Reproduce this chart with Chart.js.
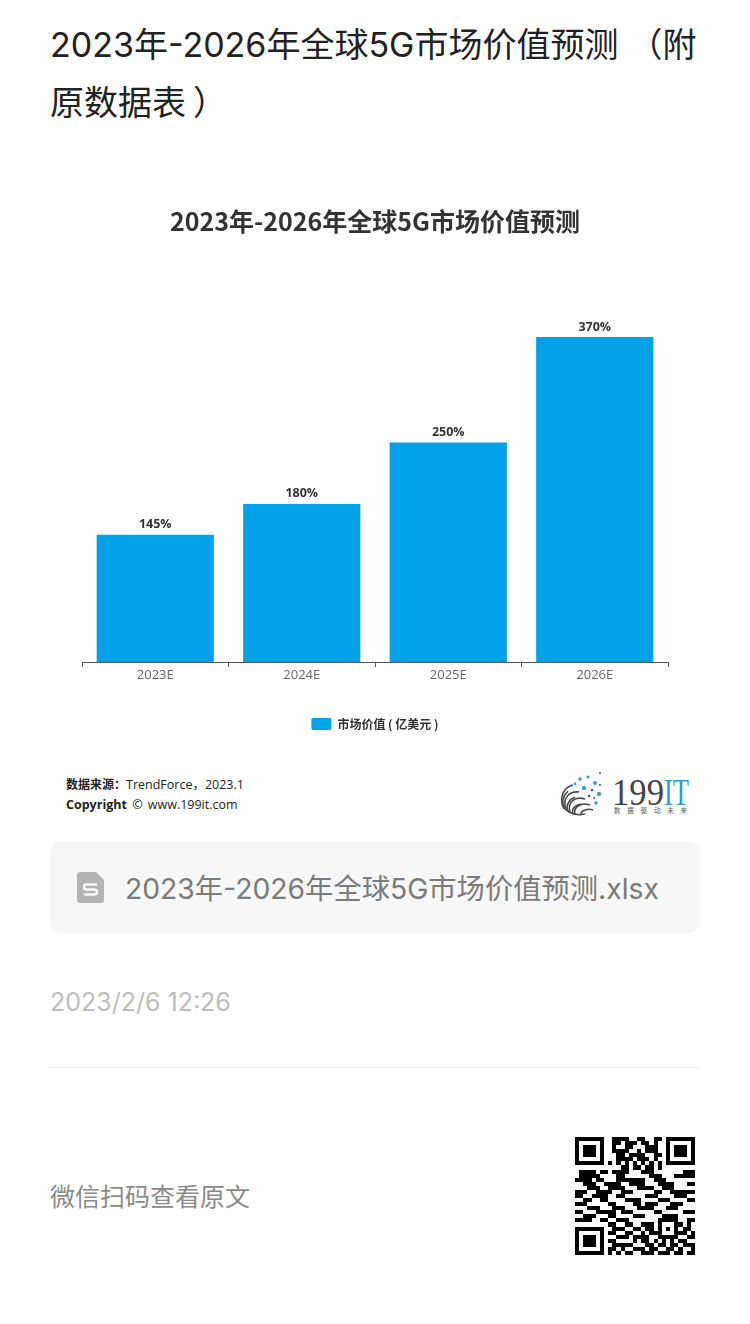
<!DOCTYPE html>
<html lang="zh">
<head>
<meta charset="utf-8">
<title>2023年-2026年全球5G市场价值预测</title>
<script src="https://cdn.jsdelivr.net/npm/chart.js@4"></script>
<style>
  html, body { margin: 0; padding: 0; background: #fff; }
  body { position: relative; width: 750px; height: 1324px; overflow: hidden; font-family: Inter, "Noto Sans CJK SC", sans-serif; }
  .txt { position: absolute; white-space: nowrap; line-height: 1; }
  #pageTitle { position: absolute; left: 50px; top: 16px; width: 680px; font-size: 34px; line-height: 58px; color: #222; }
  #chartBox { position: absolute; left: 0; top: 0; width: 750px; height: 754px; }
  .src { font-family: "Open Sans", "Noto Sans CJK SC", sans-serif; font-size: 12.5px; color: #222; }
  #fileBox { position: absolute; left: 50px; top: 842px; width: 650px; height: 91px; background: #f7f7f7; border-radius: 10px; }
  #rule { position: absolute; left: 50px; top: 1067px; width: 650px; height: 1px; background: #eeeeee; }
</style>
</head>
<body>
<div id="pageTitle">2023年-2026年全球5G市场价值预测<span style="margin-left:10px">（</span>附<br>原数据表<span style="margin-left:7px">）</span></div>
<div id="chartBox"><canvas id="barChart" width="750" height="754"></canvas></div>

<div class="txt src" style="left:66px;top:779px"><b style="font-size:12px">数据来源：</b>TrendForce，2023.1</div>
<div class="txt src" style="left:66px;top:799px;word-spacing:2px"><b>Copyright</b> © www.199it.com</div>

<!-- 199IT logo -->
<svg style="position:absolute;left:555px;top:765px" width="145" height="55" viewBox="0 0 145 55">
  <g fill="none" stroke="#4a4a4a" stroke-width="1.6">
    <path d="M8 42 C4 30 10 22 18 20"/><path d="M11 45 C7 33 14 26 24 27"/><path d="M15 47 C12 37 20 31 30 34"/>
    <path d="M20 49 C18 42 26 37 35 40"/><path d="M26 50 C25 46 32 43 38 45"/><path d="M7 36 C7 45 18 52 30 49"/>
    <path d="M9 44 C6 36 9 30 13 26"/><path d="M13 46 C10 40 15 34 20 32"/><path d="M18 48 C16 43 21 40 26 39"/>
  </g>
  <g fill="#3aa3d0">
    <circle cx="25" cy="14" r="1.8"/><circle cx="33" cy="12" r="1.6"/><circle cx="40" cy="18" r="2"/><circle cx="29" cy="23" r="2.2"/>
    <circle cx="44" cy="29" r="2.2"/><circle cx="41" cy="38" r="1.8"/><circle cx="20" cy="19" r="1.4"/>
  </g>
  <g fill="#555">
    <circle cx="45" cy="8" r="1"/><circle cx="37" cy="25" r="1.3"/><circle cx="45" cy="20" r="1"/><circle cx="34" cy="31" r="1.2"/><circle cx="39" cy="33" r="1"/>
  </g>
  <text x="57" y="40" font-family="Liberation Serif" font-size="38" fill="#444" textLength="52" lengthAdjust="spacingAndGlyphs">199</text>
  <text x="109" y="40" font-family="Liberation Serif" font-size="38" fill="#2f9fd3" textLength="25" lengthAdjust="spacingAndGlyphs">IT</text>
  <text x="59" y="48" font-family="Noto Sans CJK SC" font-size="6.5" fill="#555" textLength="73">数据驱动未来</text>
</svg>

<div id="fileBox"></div>
<svg style="position:absolute;left:77px;top:872px" width="27" height="31" viewBox="0 0 27 31">
  <path d="M3 0 H19 L27 8 V28 a3 3 0 0 1 -3 3 H3 a3 3 0 0 1 -3 -3 V3 a3 3 0 0 1 3 -3 Z" fill="#b4b4b4"/>
  <path d="M20 12.5 H9.5 a2 2 0 0 0 0 5 H17.5 a2 2 0 0 1 0 5 H7" fill="none" stroke="#f7f7f7" stroke-width="2.4"/>
</svg>
<div class="txt" style="left:125px;top:871px;font-size:28.3px;color:#7b7b7b;line-height:36px">2023年-2026年全球5G市场价值预测.xlsx</div>
<div class="txt" style="left:50px;top:986px;font-size:25px;color:#bdbdbd;line-height:32px">2023/2/6 12:26</div>
<div id="rule"></div>
<div class="txt" style="left:50px;top:1181px;font-size:25px;color:#8a8a8a;line-height:32px">微信扫码查看原文</div>
<svg id="qr" style="position:absolute;left:575px;top:1137px" width="120" height="118" viewBox="0 0 29 29" preserveAspectRatio="none" shape-rendering="crispEdges"></svg>

<script>
const categories = ['2023E', '2024E', '2025E', '2026E'];
const marketValue = [145, 180, 250, 370];
const valueLabels = ['145%', '180%', '250%', '370%'];
const seriesName = '市场价值 ( 亿美元 )';
const chartTitle = '2023年-2026年全球5G市场价值预测';

const qrRows = [
  '11111110011110011001101111111',
  '10000010011011101101001000001',
  '10111010010011000111001011101',
  '10111010011110010111001011101',
  '10111010001101111001101011101',
  '10000010001111011101001000001',
  '11111110101010101010101111111',
  '00000000000110110110100000000',
  '01111011011110001110000000111',
  '01111100001100000011100011111',
  '11110110001111111001110000000',
  '00111001111001111000111100011',
  '00011100111100011110011100000',
  '11100111100111000001100111111',
  '11001111001100000111000011100',
  '00110011000011110000111000011',
  '11100000110000110111000111000',
  '00011100011100011110001110000',
  '11000111110111000001100000111',
  '00111000110000111000011110000',
  '11110011001110000000111110011',
  '00000000110011001110100011010',
  '11111110011100110110101010110',
  '10000010110011001011100011101',
  '10111010001110111100111110011',
  '10111010110000101101010101100',
  '10111010011111000110110110111',
  '10000010110100111011001101001',
  '11111110101011001110111011011'
];

// qr code squares
const qr = document.getElementById('qr');
let qrPath = '';
qrRows.forEach((row, y) => {
  row.split('').forEach((c, x) => {
    if (c === '1') qrPath += 'M' + x + ' ' + y + 'h1v1h-1z';
  });
});
qr.innerHTML = '<path fill="#000" d="' + qrPath + '"/>';

// value text above the bars
const barLabels = {
  id: 'barLabels',
  afterDatasetsDraw(chart) {
    const ctx = chart.ctx;
    ctx.save();
    ctx.font = 'bold 12.5px "Open Sans"';
    ctx.fillStyle = '#333';
    ctx.textAlign = 'center';
    ctx.textBaseline = 'middle';
    chart.getDatasetMeta(0).data.forEach((bar, i) => {
      ctx.fillText(valueLabels[i], bar.x, bar.y - 10);
    });
    ctx.restore();
  }
};

new Chart(document.getElementById('barChart'), {
  type: 'bar',
  data: {
    labels: categories,
    datasets: [{
      label: seriesName,
      data: marketValue,
      backgroundColor: '#03a1e8',
      borderRadius: 0,
      categoryPercentage: 0.8,
      barPercentage: 1
    }]
  },
  plugins: [barLabels],
  options: {
    responsive: false,
    animation: false,
    layout: { padding: { left: 82, right: 82, top: 0, bottom: 14 } },
    plugins: {
      tooltip: { enabled: false },
      title: {
        display: true,
        text: chartTitle,
        color: '#333',
        font: { family: '"Noto Sans CJK SC"', size: 25, weight: 'bold' },
        padding: { top: 206, bottom: 101 }
      },
      legend: {
        position: 'bottom',
        labels: {
          color: '#333',
          boxWidth: 20,
          boxHeight: 12,
          padding: 10,
          useBorderRadius: true,
          borderRadius: 2,
          font: { family: '"Noto Sans CJK SC"', size: 12, weight: 'bold' }
        }
      }
    },
    scales: {
      x: {
        afterFit(scale) { scale.height = 46; },
        border: { color: '#555', width: 1 },
        grid: { drawOnChartArea: false, color: '#555', tickLength: 5 },
        ticks: { color: '#666', font: { family: '"Open Sans"', size: 13 }, padding: 0 }
      },
      y: { display: false, min: 0, max: 370 }
    }
  }
});
</script>
</body>
</html>
